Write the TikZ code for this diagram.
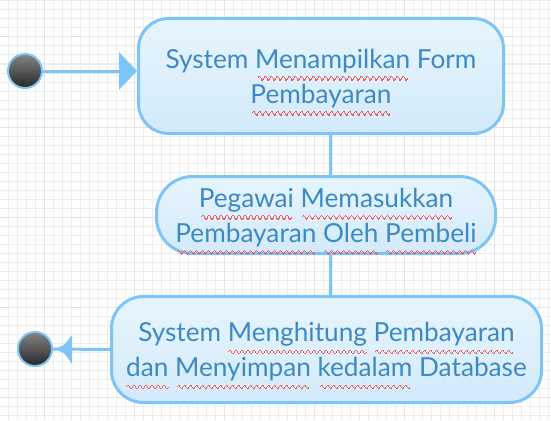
\documentclass[tikz,border=0pt]{standalone}
\usepackage{fontspec}
\setmainfont{Lato}
\usetikzlibrary{arrows.meta,calc}
\definecolor{txtblue}{RGB}{61,137,196}
\definecolor{brdblue}{RGB}{125,196,248}
\definecolor{filltop}{RGB}{230,245,252}
\definecolor{fillbot}{RGB}{211,234,251}
\definecolor{wavered}{RGB}{236,96,96}
\definecolor{gridc}{RGB}{237,237,237}
\definecolor{gridd}{RGB}{228,228,228}
\newsavebox\wvbox
\newcommand\wvr[1]{\rule[#1pt]{0.75pt}{1.3pt}}
\newcommand\wv[1]{\sbox\wvbox{#1}\usebox\wvbox\llap{\raisebox{-10pt}[0pt][0pt]{\hbox to\wd\wvbox{\color{wavered}\cleaders\hbox{\wvr{-0.15}\wvr{0.95}\wvr{0.95}\wvr{-0.15}\wvr{-1.25}\wvr{-2.35}\wvr{-2.35}\wvr{-1.25}}\hfill}}}}
\newcommand\tl{\rule{0pt}{24pt}}
\begin{document}
\begin{tikzpicture}[x=1pt,y=-1pt,
  actbox/.style={draw=brdblue,line width=3pt,rounded corners=#1,top color=filltop,bottom color=fillbot,text=txtblue,align=center,font=\fontsize{26.2}{35}\selectfont,inner sep=0pt},
  conn/.style={draw=brdblue,line width=3pt},
  dot/.style={circle,draw=brdblue,line width=2pt,top color=black!48,bottom color=black!85,minimum size=34pt,inner sep=0pt}]
\useasboundingbox (0,0) rectangle (551,420);
\fill[white] (0,0) rectangle (551,420);
\foreach \x in {8,17,...,548} \draw[gridc,line width=1pt] (\x,0) -- (\x,420);
\foreach \y in {1,10,...,419} \draw[gridc,line width=1pt] (0,\y) -- (551,\y);
\foreach \x in {44,134,224,314,404,494} \draw[gridd,line width=1pt] (\x,0) -- (\x,420);
\foreach \y in {37,127,217,307,397} \draw[gridd,line width=1pt] (0,\y) -- (551,\y);

\node[actbox=30,minimum width=365pt,minimum height=115pt] (box1) at (321,76) {\tl System \wv{Menampilkan} Form\\\wv{Pembayaran}};
\node[actbox=36,minimum width=339pt,minimum height=77pt] (box2) at (326,215) {\tl\wv{Pegawai} \wv{Memasukkan}\\\wv{Pembayaran} \wv{Oleh} \wv{Pembeli}};
\node[actbox=32,minimum width=430pt,minimum height=106pt] (box3) at (326.5,349.5) {\tl System \wv{Menghitung} \wv{Pembayaran}\\\wv{dan} \wv{Menyimpan} \wv{kedalam} Database};

\coordinate (cx) at (330,0);
\draw[conn] (box1.south -| cx) -- (box2.north -| cx);
\draw[conn] (box2.south -| cx) -- (box3.north -| cx);

\node[dot] (start) at (25,71) {};
\draw[conn,-{Triangle[length=18pt,width=37pt]}] (start.east) -- (start.east -| box1.west);

\node[dot] (end) at (35,349) {};
\draw[conn] (box3.west) -- (end.east);
\fill[brdblue,shift={(end.east)}] (0,0) .. controls (11,-3) .. (19,-14) -- (19,15) .. controls (11,3) .. (0,0);
\end{tikzpicture}
\end{document}
